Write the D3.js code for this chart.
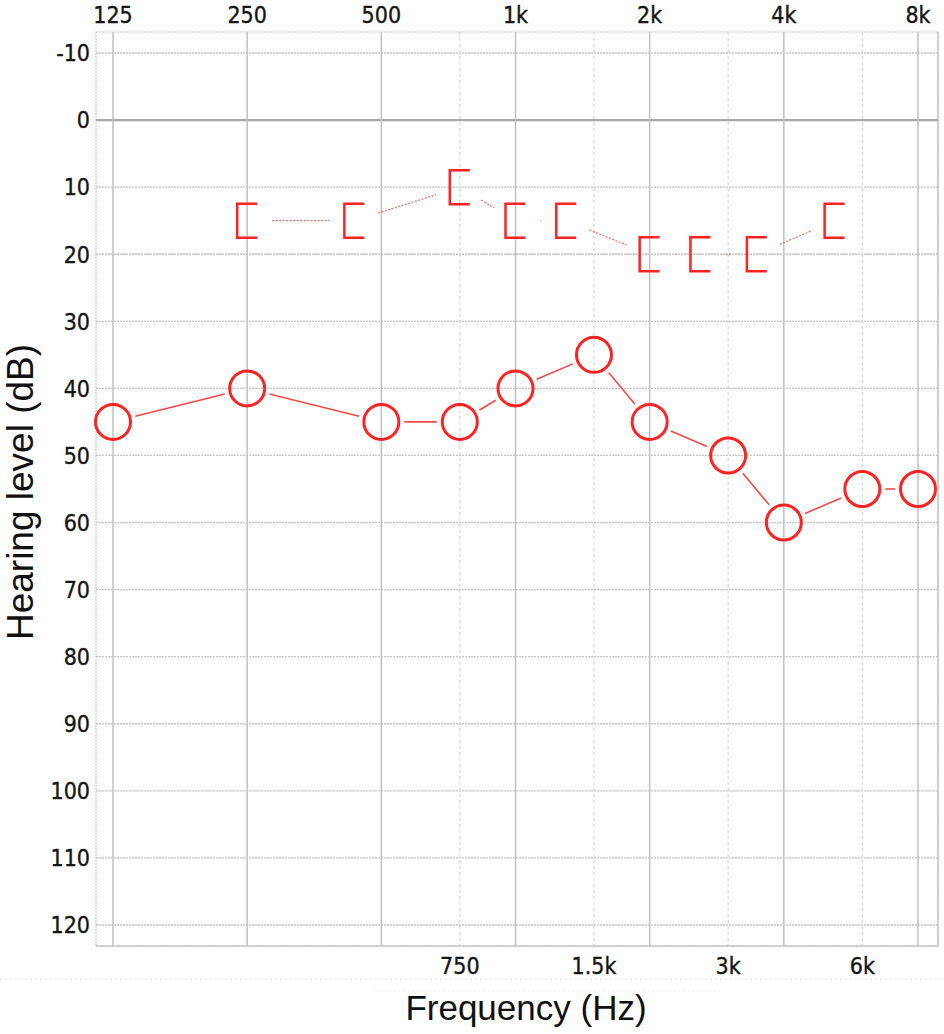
<!DOCTYPE html>
<html>
<head>
<meta charset="utf-8">
<script src="https://cdn.jsdelivr.net/npm/d3@7"></script>
<style>
  body { margin: 0; background: #fff; }
  .tick { fill: #151515; stroke: #151515; stroke-width: 0.35; }
</style>
</head>
<body>
<div class="audiogram"></div>
<script>
  // data
  const octaveFreqs = [125, 250, 500, 1000, 2000, 4000, 8000];
  const octaveLabels = ["125", "250", "500", "1k", "2k", "4k", "8k"];
  const halfFreqs = [750, 1500, 3000, 6000];
  const halfLabels = ["750", "1.5k", "3k", "6k"];
  const dbTicks = [-10, 0, 10, 20, 30, 40, 50, 60, 70, 80, 90, 100, 110, 120];

  // air conduction (circles)
  const acFreqs = [125, 250, 500, 750, 1000, 1500, 2000, 3000, 4000, 6000, 8000];
  const acLevels = [45, 40, 45, 45, 40, 35, 45, 50, 60, 55, 55];

  // masked bone conduction (brackets)
  const bcFreqs = [250, 435, 750, 1000, 1300, 2000, 2600, 3480, 5200];
  const bcLevels = [15, 15, 10, 15, 15, 20, 20, 20, 15];

  const width = 944, height = 1034;

  const x = d3.scaleLog().base(2)
    .domain([125, 8000])
    .range([113, 918]);

  const y = d3.scaleLinear()
    .domain([-10, 120])
    .range([53, 925]);

  const frame = {left: 96, right: 938, top: 32, bottom: 946};

  const svg = d3.select(".audiogram").append("svg")
    .attr("width", width)
    .attr("height", height)
    .style("font-family", "'DejaVu Sans Condensed', 'DejaVu Sans', sans-serif");

  // frame
  svg.append("rect")
    .attr("x", frame.left)
    .attr("y", frame.top)
    .attr("width", frame.right - frame.left)
    .attr("height", frame.bottom - frame.top)
    .attr("fill", "none")
    .attr("stroke", "#c8c8c8")
    .attr("stroke-width", 1.2)
    .attr("stroke-dasharray", "2,1");

  svg.append("path")
    .attr("d", `M${frame.right},${frame.top}V${frame.bottom}H${frame.left}`)
    .attr("fill", "none")
    .attr("stroke", "#c8c8c8")
    .attr("stroke-width", 1.5);

  // horizontal grid
  svg.append("g").selectAll("line")
    .data(dbTicks)
    .join("line")
      .attr("x1", frame.left)
      .attr("x2", frame.right)
      .attr("y1", d => y(d))
      .attr("y2", d => y(d))
      .attr("stroke", d => d === 0 ? "#a8a8a8" : "#c4c4c4")
      .attr("stroke-width", d => d === 0 ? 2.2 : 1.3)
      .attr("stroke-dasharray", d => d === 0 ? null : "2,1");

  // vertical grid: octaves solid, half octaves dashed
  svg.append("g").selectAll("line")
    .data(octaveFreqs)
    .join("line")
      .attr("x1", d => x(d))
      .attr("x2", d => x(d))
      .attr("y1", frame.top)
      .attr("y2", frame.bottom)
      .attr("stroke", "#c0c0c0")
      .attr("stroke-width", 1.5);

  svg.append("g").selectAll("line")
    .data(halfFreqs)
    .join("line")
      .attr("x1", d => x(d))
      .attr("x2", d => x(d))
      .attr("y1", frame.top)
      .attr("y2", frame.bottom)
      .attr("stroke", "#d4d4d4")
      .attr("stroke-width", 1.2)
      .attr("stroke-dasharray", "3,3");

  // axis labels
  svg.append("g").selectAll("text")
    .data(octaveFreqs)
    .join("text")
      .attr("class", "tick")
      .attr("x", d => x(d))
      .attr("y", 23)
      .attr("text-anchor", "middle")
      .attr("font-size", 23)
      .text((d, i) => octaveLabels[i]);

  svg.append("g").selectAll("text")
    .data(halfFreqs)
    .join("text")
      .attr("class", "tick")
      .attr("x", d => x(d))
      .attr("y", 974)
      .attr("text-anchor", "middle")
      .attr("font-size", 23)
      .text((d, i) => halfLabels[i]);

  svg.append("g").selectAll("text")
    .data(dbTicks)
    .join("text")
      .attr("class", "tick")
      .attr("x", 90)
      .attr("y", d => y(d))
      .attr("dy", "0.36em")
      .attr("text-anchor", "end")
      .attr("font-size", 23)
      .text(d => d);

  // faint separators under the bottom labels
  svg.append("line")
    .attr("x1", 0).attr("x2", width)
    .attr("y1", 979).attr("y2", 979)
    .attr("stroke", "#e2e2e2")
    .attr("stroke-dasharray", "2,3");

  svg.append("line")
    .attr("x1", 373).attr("x2", 720)
    .attr("y1", 991).attr("y2", 991)
    .attr("stroke", "#ececec")
    .attr("stroke-dasharray", "2,3");

  // titles
  svg.append("text")
    .attr("x", 526)
    .attr("y", 1020)
    .attr("text-anchor", "middle")
    .attr("font-family", "'Liberation Sans', Arial, sans-serif")
    .attr("font-size", 35)
    .attr("fill", "#111")
    .text("Frequency (Hz)");

  svg.append("text")
    .attr("transform", "translate(33,492) rotate(-90)")
    .attr("text-anchor", "middle")
    .attr("font-family", "'Liberation Sans', Arial, sans-serif")
    .attr("font-size", 37)
    .attr("fill", "#111")
    .text("Hearing level (dB)");

  // connect points with a gap around each symbol
  function gapped(pts, gap) {
    return pts.slice(1).map((p, i) => {
      const a = pts[i], dx = p[0] - a[0], dy = p[1] - a[1];
      const len = Math.sqrt(dx * dx + dy * dy);
      const ux = dx / len, uy = dy / len;
      return [a[0] + ux * gap, a[1] + uy * gap, p[0] - ux * gap, p[1] - uy * gap];
    });
  }

  const ac = acFreqs.map((f, i) => [x(f), y(acLevels[i])]);
  const bc = bcFreqs.map((f, i) => [x(f), y(bcLevels[i])]);

  svg.append("g").selectAll("line")
    .data(gapped(bc, 25))
    .join("line")
      .attr("x1", d => d[0]).attr("y1", d => d[1])
      .attr("x2", d => d[2]).attr("y2", d => d[3])
      .attr("stroke", "#f46a6a")
      .attr("stroke-width", 1.2)
      .attr("stroke-dasharray", "2,1.5");

  svg.append("g").selectAll("path")
    .data(bc)
    .join("path")
      .attr("d", d => `M${d[0] + 10},${d[1] - 17}H${d[0] - 10}V${d[1] + 17}H${d[0] + 10}`)
      .attr("fill", "none")
      .attr("stroke", "#f22")
      .attr("stroke-width", 2.5);

  svg.append("g").selectAll("line")
    .data(gapped(ac, 23))
    .join("line")
      .attr("x1", d => d[0]).attr("y1", d => d[1])
      .attr("x2", d => d[2]).attr("y2", d => d[3])
      .attr("stroke", "#f24a4a")
      .attr("stroke-width", 1.6);

  svg.append("g").selectAll("circle")
    .data(ac)
    .join("circle")
      .attr("cx", d => d[0])
      .attr("cy", d => d[1])
      .attr("r", 17.5)
      .attr("fill", "none")
      .attr("stroke", "#f22")
      .attr("stroke-width", 3);
</script>
</body>
</html>
